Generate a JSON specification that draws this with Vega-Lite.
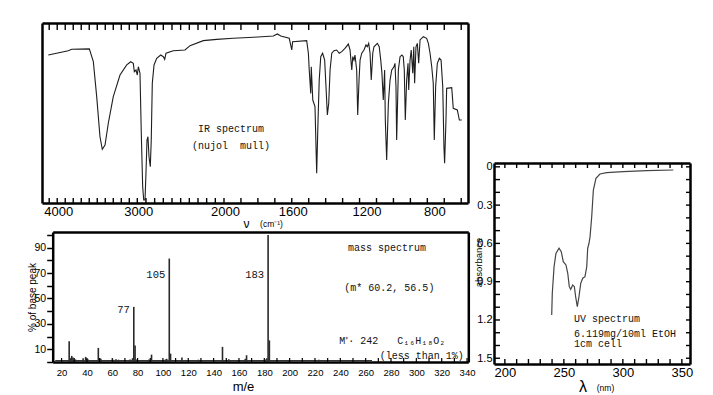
{
  "$schema": "https://vega.github.io/schema/vega-lite/v6.json",
  "width": 713,
  "height": 395,
  "padding": 0,
  "autosize": {"type": "none"},
  "background": "white",
  "config": {
    "view": {"stroke": null},
    "axis": {
      "grid": false,
      "labelOverlap": false,
      "labelFlush": false,
      "labelColor": "#000",
      "titleColor": "#000",
      "domainColor": "#000",
      "domainWidth": 2.5,
      "labelFont": "Liberation Sans",
      "titleFont": "Liberation Sans",
      "titleFontWeight": "normal"
    }
  },
  "datasets": {
    "ir": [
      {"wavenumber": 4111, "transmittance": 82.2}, {"wavenumber": 3862, "transmittance": 84.6}, {"wavenumber": 3819, "transmittance": 85.4},
      {"wavenumber": 3599, "transmittance": 85.6}, {"wavenumber": 3549, "transmittance": 78.5}, {"wavenumber": 3507, "transmittance": 59.1},
      {"wavenumber": 3466, "transmittance": 36.8}, {"wavenumber": 3437, "transmittance": 29.8}, {"wavenumber": 3403, "transmittance": 32.2},
      {"wavenumber": 3362, "transmittance": 44.3}, {"wavenumber": 3300, "transmittance": 59.1}, {"wavenumber": 3216, "transmittance": 71.1},
      {"wavenumber": 3132, "transmittance": 76.7}, {"wavenumber": 3082, "transmittance": 78.5}, {"wavenumber": 3050, "transmittance": 77.6},
      {"wavenumber": 3037, "transmittance": 72.9}, {"wavenumber": 3016, "transmittance": 73.9}, {"wavenumber": 3000, "transmittance": 71.1},
      {"wavenumber": 2988, "transmittance": 75.7}, {"wavenumber": 2969, "transmittance": 72.1}, {"wavenumber": 2954, "transmittance": 38.7},
      {"wavenumber": 2938, "transmittance": 9.1}, {"wavenumber": 2926, "transmittance": 1.7}, {"wavenumber": 2911, "transmittance": 1.7},
      {"wavenumber": 2900, "transmittance": 16.7}, {"wavenumber": 2888, "transmittance": 35}, {"wavenumber": 2877, "transmittance": 36.8},
      {"wavenumber": 2865, "transmittance": 25.7}, {"wavenumber": 2850, "transmittance": 20.2}, {"wavenumber": 2839, "transmittance": 35},
      {"wavenumber": 2827, "transmittance": 66.5}, {"wavenumber": 2807, "transmittance": 76.7}, {"wavenumber": 2776, "transmittance": 80.4},
      {"wavenumber": 2730, "transmittance": 82.2}, {"wavenumber": 2700, "transmittance": 81.3}, {"wavenumber": 2684, "transmittance": 79.8},
      {"wavenumber": 2669, "transmittance": 83.2}, {"wavenumber": 2585, "transmittance": 84.6}, {"wavenumber": 2450, "transmittance": 85},
      {"wavenumber": 2392, "transmittance": 87.4}, {"wavenumber": 2239, "transmittance": 90.2}, {"wavenumber": 2084, "transmittance": 90.9},
      {"wavenumber": 1945, "transmittance": 91.5}, {"wavenumber": 1827, "transmittance": 92.1}, {"wavenumber": 1709, "transmittance": 92.8},
      {"wavenumber": 1685, "transmittance": 93.9}, {"wavenumber": 1665, "transmittance": 92.8}, {"wavenumber": 1615, "transmittance": 91.5},
      {"wavenumber": 1600, "transmittance": 85}, {"wavenumber": 1595, "transmittance": 89.6}, {"wavenumber": 1512, "transmittance": 90.2},
      {"wavenumber": 1502, "transmittance": 83.2}, {"wavenumber": 1497, "transmittance": 73.9}, {"wavenumber": 1488, "transmittance": 60.9},
      {"wavenumber": 1485, "transmittance": 75.7}, {"wavenumber": 1476, "transmittance": 57.2}, {"wavenumber": 1463, "transmittance": 53.5},
      {"wavenumber": 1453, "transmittance": 16.5}, {"wavenumber": 1445, "transmittance": 46.1}, {"wavenumber": 1438, "transmittance": 68.3},
      {"wavenumber": 1429, "transmittance": 81.3}, {"wavenumber": 1418, "transmittance": 83.2}, {"wavenumber": 1406, "transmittance": 79.4},
      {"wavenumber": 1398, "transmittance": 64.6}, {"wavenumber": 1390, "transmittance": 48.9}, {"wavenumber": 1382, "transmittance": 55.4},
      {"wavenumber": 1374, "transmittance": 73.9}, {"wavenumber": 1364, "transmittance": 83.2}, {"wavenumber": 1351, "transmittance": 84.6},
      {"wavenumber": 1335, "transmittance": 85}, {"wavenumber": 1320, "transmittance": 83.2}, {"wavenumber": 1305, "transmittance": 84.1},
      {"wavenumber": 1286, "transmittance": 85.9}, {"wavenumber": 1266, "transmittance": 88.3}, {"wavenumber": 1256, "transmittance": 85},
      {"wavenumber": 1246, "transmittance": 73.9}, {"wavenumber": 1240, "transmittance": 81.3}, {"wavenumber": 1233, "transmittance": 79.4},
      {"wavenumber": 1227, "transmittance": 82.2}, {"wavenumber": 1217, "transmittance": 73.9}, {"wavenumber": 1211, "transmittance": 48.9},
      {"wavenumber": 1203, "transmittance": 68.3}, {"wavenumber": 1197, "transmittance": 79.4}, {"wavenumber": 1187, "transmittance": 83.2},
      {"wavenumber": 1174, "transmittance": 85}, {"wavenumber": 1162, "transmittance": 87.8}, {"wavenumber": 1154, "transmittance": 86.8},
      {"wavenumber": 1146, "transmittance": 88.7}, {"wavenumber": 1138, "transmittance": 83.2}, {"wavenumber": 1131, "transmittance": 68.3},
      {"wavenumber": 1122, "transmittance": 83.2}, {"wavenumber": 1115, "transmittance": 86.8}, {"wavenumber": 1095, "transmittance": 88.7},
      {"wavenumber": 1084, "transmittance": 86.8}, {"wavenumber": 1075, "transmittance": 79.4}, {"wavenumber": 1068, "transmittance": 72.1},
      {"wavenumber": 1060, "transmittance": 57.2}, {"wavenumber": 1052, "transmittance": 73.9}, {"wavenumber": 1048, "transmittance": 46.1},
      {"wavenumber": 1040, "transmittance": 23.9}, {"wavenumber": 1030, "transmittance": 55.4}, {"wavenumber": 1020, "transmittance": 68.3},
      {"wavenumber": 1010, "transmittance": 73.9}, {"wavenumber": 997, "transmittance": 75.7}, {"wavenumber": 991, "transmittance": 77.6},
      {"wavenumber": 985, "transmittance": 64.6}, {"wavenumber": 981, "transmittance": 35}, {"wavenumber": 971, "transmittance": 73.9},
      {"wavenumber": 961, "transmittance": 81.3}, {"wavenumber": 950, "transmittance": 82.2}, {"wavenumber": 942, "transmittance": 81.3},
      {"wavenumber": 936, "transmittance": 73.9}, {"wavenumber": 930, "transmittance": 46.1}, {"wavenumber": 922, "transmittance": 68.3},
      {"wavenumber": 914, "transmittance": 77.6}, {"wavenumber": 910, "transmittance": 62.8}, {"wavenumber": 902, "transmittance": 79.4},
      {"wavenumber": 895, "transmittance": 85}, {"wavenumber": 886, "transmittance": 72.1}, {"wavenumber": 880, "transmittance": 86.8},
      {"wavenumber": 875, "transmittance": 66.5}, {"wavenumber": 867, "transmittance": 86.8}, {"wavenumber": 859, "transmittance": 88.7},
      {"wavenumber": 851, "transmittance": 77.6}, {"wavenumber": 843, "transmittance": 90.6}, {"wavenumber": 824, "transmittance": 92.4},
      {"wavenumber": 804, "transmittance": 91.5}, {"wavenumber": 794, "transmittance": 88.7}, {"wavenumber": 784, "transmittance": 83.2},
      {"wavenumber": 774, "transmittance": 75.7}, {"wavenumber": 765, "transmittance": 66.5}, {"wavenumber": 759, "transmittance": 35},
      {"wavenumber": 751, "transmittance": 64.6}, {"wavenumber": 741, "transmittance": 77.6}, {"wavenumber": 729, "transmittance": 80.4},
      {"wavenumber": 719, "transmittance": 79.4}, {"wavenumber": 709, "transmittance": 64.6}, {"wavenumber": 702, "transmittance": 31.3},
      {"wavenumber": 698, "transmittance": 22.1}, {"wavenumber": 690, "transmittance": 46.1}, {"wavenumber": 686, "transmittance": 63.7},
      {"wavenumber": 656, "transmittance": 64.1}, {"wavenumber": 647, "transmittance": 52.6}, {"wavenumber": 623, "transmittance": 51.7},
      {"wavenumber": 611, "transmittance": 46.1}, {"wavenumber": 597, "transmittance": 46.1}
    ],
    "irText": [
      {"wavenumber": 1959, "transmittance": 41.1, "text": "IR spectrum"},
      {"wavenumber": 1959, "transmittance": 31.7, "text": "(nujol \u00a0mull)"}
    ],
    "irTicks": [
      {"wavenumber": 4100}, {"wavenumber": 4000}, {"wavenumber": 3900}, {"wavenumber": 3800}, {"wavenumber": 3700}, {"wavenumber": 3600},
      {"wavenumber": 3500}, {"wavenumber": 3400}, {"wavenumber": 3300}, {"wavenumber": 3200}, {"wavenumber": 3100}, {"wavenumber": 3000},
      {"wavenumber": 2900}, {"wavenumber": 2800}, {"wavenumber": 2700}, {"wavenumber": 2600}, {"wavenumber": 2500}, {"wavenumber": 2400},
      {"wavenumber": 2300}, {"wavenumber": 2200}, {"wavenumber": 2100}, {"wavenumber": 2000}, {"wavenumber": 1900}, {"wavenumber": 1800},
      {"wavenumber": 1700}, {"wavenumber": 1600}, {"wavenumber": 1500}, {"wavenumber": 1400}, {"wavenumber": 1300}, {"wavenumber": 1200},
      {"wavenumber": 1100}, {"wavenumber": 1000}, {"wavenumber": 900}, {"wavenumber": 800}, {"wavenumber": 700}, {"wavenumber": 600}
    ],
    "ms": [
      {"mz": 26, "pct": 16.3}, {"mz": 27, "pct": 3}, {"mz": 28, "pct": 4.8}, {"mz": 29, "pct": 3.5}, {"mz": 31, "pct": 2},
      {"mz": 37, "pct": 3}, {"mz": 39, "pct": 4}, {"mz": 40, "pct": 2.5}, {"mz": 41, "pct": 2}, {"mz": 49, "pct": 11.1},
      {"mz": 50, "pct": 3}, {"mz": 51, "pct": 2.5}, {"mz": 61, "pct": 1.8}, {"mz": 63, "pct": 2.2}, {"mz": 65, "pct": 1.8},
      {"mz": 74, "pct": 2}, {"mz": 76, "pct": 3}, {"mz": 77, "pct": 43.4}, {"mz": 78, "pct": 13}, {"mz": 79, "pct": 2},
      {"mz": 89, "pct": 2}, {"mz": 91, "pct": 5.8}, {"mz": 102, "pct": 2}, {"mz": 103, "pct": 2.5}, {"mz": 105, "pct": 81.4},
      {"mz": 106, "pct": 6.6}, {"mz": 115, "pct": 3.5}, {"mz": 128, "pct": 1.8}, {"mz": 147, "pct": 11.9}, {"mz": 152, "pct": 2.2},
      {"mz": 165, "pct": 2.5}, {"mz": 166, "pct": 5.3}, {"mz": 181, "pct": 2}, {"mz": 182, "pct": 3}, {"mz": 183, "pct": 100},
      {"mz": 184, "pct": 17}, {"mz": 199, "pct": 1.5}, {"mz": 223, "pct": 1.8}
    ],
    "msBase": [{"mz": 15, "pct": 1.2}, {"mz": 265, "pct": 1.2}],
    "msTicks": [
      {"mz": 20}, {"mz": 30}, {"mz": 40}, {"mz": 50}, {"mz": 60}, {"mz": 70}, {"mz": 80}, {"mz": 90}, {"mz": 100}, {"mz": 110}, {"mz": 120},
      {"mz": 130}, {"mz": 140}, {"mz": 150}, {"mz": 160}, {"mz": 170}, {"mz": 180}, {"mz": 190}, {"mz": 200}, {"mz": 210}, {"mz": 220},
      {"mz": 230}, {"mz": 240}, {"mz": 250}, {"mz": 260}, {"mz": 270}, {"mz": 280}, {"mz": 290}, {"mz": 300}, {"mz": 310}, {"mz": 320},
      {"mz": 330}, {"mz": 340}
    ],
    "msPeakLabels": [
      {"mz": 77, "pct": 40.7, "label": "77"},
      {"mz": 105, "pct": 68.2, "label": "105"},
      {"mz": 183, "pct": 68.2, "label": "183"}
    ],
    "msText": [
      {"mz": 276.9, "pct": 89.5, "text": "mass spectrum"},
      {"mz": 278.7, "pct": 58.0, "text": "(m* 60.2, 56.5)"},
      {"mz": 254.5, "pct": 16.5, "text": "M⁺· 242"},
      {"mz": 303.9, "pct": 16.5, "text": "C₁₆H₁₈O₂"},
      {"mz": 304.3, "pct": 4.7, "text": "(less than 1%)"}
    ],
    "uv": [
      {"nm": 239.7, "absorbance": 1.161}, {"nm": 240.2, "absorbance": 0.991}, {"nm": 241.7, "absorbance": 0.783},
      {"nm": 243.3, "absorbance": 0.678}, {"nm": 245.9, "absorbance": 0.638}, {"nm": 247.8, "absorbance": 0.665},
      {"nm": 249.5, "absorbance": 0.743}, {"nm": 251.8, "absorbance": 0.769}, {"nm": 253.3, "absorbance": 0.834},
      {"nm": 254.6, "absorbance": 0.939}, {"nm": 255.8, "absorbance": 0.960}, {"nm": 257.5, "absorbance": 0.926},
      {"nm": 258.9, "absorbance": 0.939}, {"nm": 260.0, "absorbance": 1.018}, {"nm": 261.4, "absorbance": 1.096},
      {"nm": 262.8, "absorbance": 1.018}, {"nm": 264.3, "absorbance": 0.913}, {"nm": 266.0, "absorbance": 0.873},
      {"nm": 267.9, "absorbance": 0.861}, {"nm": 269.4, "absorbance": 0.783}, {"nm": 270.2, "absorbance": 0.638},
      {"nm": 271.3, "absorbance": 0.599}, {"nm": 272.2, "absorbance": 0.547}, {"nm": 273.6, "absorbance": 0.391},
      {"nm": 275.0, "absorbance": 0.182}, {"nm": 277.2, "absorbance": 0.090}, {"nm": 280.6, "absorbance": 0.056},
      {"nm": 286.3, "absorbance": 0.046}, {"nm": 300.4, "absorbance": 0.038}, {"nm": 320.2, "absorbance": 0.030},
      {"nm": 342.8, "absorbance": 0.025}
    ],
    "uvText": [
      {"nm": 258.6, "absorbance": 1.195, "text": "UV spectrum"},
      {"nm": 258.6, "absorbance": 1.310, "text": "6.119mg/10ml EtOH"},
      {"nm": 258.6, "absorbance": 1.388, "text": "1cm cell"}
    ],
    "uvXTicks": [
      {"nm": 200}, {"nm": 210}, {"nm": 220}, {"nm": 230}, {"nm": 240}, {"nm": 250}, {"nm": 260}, {"nm": 270},
      {"nm": 280}, {"nm": 290}, {"nm": 300}, {"nm": 310}, {"nm": 320}, {"nm": 330}, {"nm": 340}, {"nm": 350}
    ],
    "uvYTicks": [
      {"absorbance": 0}, {"absorbance": 0.1}, {"absorbance": 0.2}, {"absorbance": 0.3}, {"absorbance": 0.4}, {"absorbance": 0.5},
      {"absorbance": 0.6}, {"absorbance": 0.7}, {"absorbance": 0.8}, {"absorbance": 0.9}, {"absorbance": 1.0}, {"absorbance": 1.1},
      {"absorbance": 1.2}, {"absorbance": 1.3}, {"absorbance": 1.4}, {"absorbance": 1.5}
    ]
  },
  "layer": [
    {
      "layer": [
        {
          "data": {"name": "ir"},
          "mark": {"type": "line", "color": "#1e1e1e", "strokeWidth": 1.1},
          "encoding": {
            "x": {"field": "wavenumber", "type": "quantitative",
              "scale": {"domain": [4190, 3000, 2000, 560], "range": [42, 137.3, 224, 468], "nice": false, "zero": false},
              "axis": {"orient": "bottom", "offset": -192, "format": "d", "ticks": false,
                "values": [4000,3000,2000,1600,1200,800],
                "labelFontSize": 13, "labelPadding": 2,
                "labelOffset": {"condition": {"test": "datum.value <= 1200", "value": 7}, "value": 1},
                "title": "ν", "titleFontSize": 12, "titleX": 246, "titleY": 20, "titleBaseline": "middle", "titleAlign": "center"}},
            "y": {"field": "transmittance", "type": "quantitative",
              "scale": {"domain": [0, 100], "range": [203, 23], "nice": false, "zero": false},
              "axis": {"orient": "left", "offset": -42, "ticks": false, "labels": false, "title": null}}
          }
        },
        {
          "data": {"name": "irText"},
          "transform": [{"filter": "datum.text == 'IR spectrum'"}],
          "mark": {"type": "text", "font": "Liberation Mono", "fontSize": 10, "align": "center", "baseline": "middle", "color": "#111"},
          "encoding": {
            "x": {"field": "wavenumber", "type": "quantitative",
              "scale": {"domain": [4190, 3000, 2000, 560], "range": [42, 137.3, 224, 468], "nice": false, "zero": false},
              "axis": {"orient": "top", "offset": -23, "ticks": false, "labels": false, "title": null}},
            "y": {"field": "transmittance", "type": "quantitative",
              "scale": {"domain": [0, 100], "range": [203, 23], "nice": false, "zero": false},
              "axis": {"orient": "right", "offset": -245, "ticks": false, "labels": false, "title": null}},
            "text": {"field": "text"}
          }
        },
        {
          "data": {"name": "irText"},
          "transform": [{"filter": "datum.text != 'IR spectrum'"}],
          "mark": {"type": "text", "font": "Liberation Mono", "fontSize": 10, "align": "center", "baseline": "middle", "color": "#111"},
          "encoding": {
            "x": {"field": "wavenumber", "type": "quantitative",
              "scale": {"domain": [4190, 3000, 2000, 560], "range": [42, 137.3, 224, 468], "nice": false, "zero": false},
              "axis": {"orient": "bottom", "offset": -192, "domain": false, "ticks": false, "labels": false,
                "title": "(cm⁻¹)", "titleFontSize": 8.5, "titleX": 271, "titleY": 20.5, "titleBaseline": "middle", "titleAlign": "center"}},
            "y": {"field": "transmittance", "type": "quantitative",
              "scale": {"domain": [0, 100], "range": [203, 23], "nice": false, "zero": false},
              "axis": null},
            "text": {"field": "text"}
          }
        },
        {
          "data": {"name": "irTicks"},
          "mark": {"type": "tick", "orient": "vertical", "color": "#000", "size": 7, "thickness": 1.4, "yOffset": 3.5, "opacity": 1},
          "encoding": {
            "x": {"field": "wavenumber", "type": "quantitative",
              "scale": {"domain": [4190, 3000, 2000, 560], "range": [42, 137.3, 224, 468], "nice": false, "zero": false}, "axis": null},
            "y": {"datum": 100, "type": "quantitative",
              "scale": {"domain": [0, 100], "range": [203, 23], "nice": false, "zero": false}, "axis": null}
          }
        },
        {
          "data": {"name": "irTicks"},
          "mark": {"type": "tick", "orient": "vertical", "color": "#000", "size": 5, "thickness": 1.4, "yOffset": -2.5, "opacity": 1},
          "encoding": {
            "x": {"field": "wavenumber", "type": "quantitative",
              "scale": {"domain": [4190, 3000, 2000, 560], "range": [42, 137.3, 224, 468], "nice": false, "zero": false}, "axis": null},
            "y": {"datum": 0, "type": "quantitative",
              "scale": {"domain": [0, 100], "range": [203, 23], "nice": false, "zero": false}, "axis": null}
          }
        }
      ],
      "resolve": {"axis": {"x": "independent", "y": "independent"}}
    },
    {
      "layer": [
        {
          "data": {"name": "ms"},
          "mark": {"type": "rule", "color": "#2a2a2a", "strokeWidth": 1.6},
          "encoding": {
            "x": {"field": "mz", "type": "quantitative",
              "scale": {"domain": [13, 341], "range": [52.7, 468.3], "nice": false, "zero": false},
              "axis": {"orient": "bottom", "offset": -33, "format": "d", "ticks": false,
                "values": [20,40,60,80,100,120,140,160,180,200,220,240,260,280,300,320,340],
                "labelFontSize": 9.5, "labelPadding": 5,
                "title": "m/e", "titleFontSize": 13, "titleX": 243, "titleY": 24.7, "titleBaseline": "middle", "titleAlign": "center"}},
            "y": {"field": "pct", "type": "quantitative",
              "scale": {"domain": [0, 102.3], "range": [362, 232], "nice": false, "zero": false},
              "axis": {"orient": "left", "offset": -52.7, "format": "d",
                "values": [0,10,20,30,40,50,60,70,80,90,100],
                "labelExpr": "datum.value % 20 == 10 ? datum.label : ''",
                "ticks": true, "tickSize": 6, "tickColor": "#000", "tickWidth": 1.5, "tickOpacity": 1,
                "labelPadding": 1, "labelFontSize": 10.5,
                "title": "% of base peak", "titleFontSize": 10, "titleAngle": 270, "titleX": -20, "titleY": 297, "titleBaseline": "middle", "titleAlign": "center"}},
            "y2": {"datum": 0}
          }
        },
        {
          "data": {"name": "msBase"},
          "mark": {"type": "line", "color": "#333", "strokeWidth": 1.2},
          "encoding": {
            "x": {"field": "mz", "type": "quantitative",
              "scale": {"domain": [13, 341], "range": [52.7, 468.3], "nice": false, "zero": false},
              "axis": {"orient": "top", "offset": -232, "ticks": false, "labels": false, "title": null}},
            "y": {"field": "pct", "type": "quantitative",
              "scale": {"domain": [0, 102.3], "range": [362, 232], "nice": false, "zero": false},
              "axis": {"orient": "right", "offset": -244.7, "ticks": false, "labels": false, "title": null}}
          }
        },
        {
          "data": {"name": "msPeakLabels"},
          "mark": {"type": "text", "font": "Liberation Mono", "fontSize": 10.5, "align": "right", "baseline": "middle", "dx": -4, "color": "#111"},
          "encoding": {
            "x": {"field": "mz", "type": "quantitative",
              "scale": {"domain": [13, 341], "range": [52.7, 468.3], "nice": false, "zero": false}, "axis": null},
            "y": {"field": "pct", "type": "quantitative",
              "scale": {"domain": [0, 102.3], "range": [362, 232], "nice": false, "zero": false}, "axis": null},
            "text": {"field": "label"}
          }
        },
        {
          "data": {"name": "msText"},
          "mark": {"type": "text", "font": "Liberation Mono", "fontSize": 10, "align": "center", "baseline": "middle", "color": "#111"},
          "encoding": {
            "x": {"field": "mz", "type": "quantitative",
              "scale": {"domain": [13, 341], "range": [52.7, 468.3], "nice": false, "zero": false}, "axis": null},
            "y": {"field": "pct", "type": "quantitative",
              "scale": {"domain": [0, 102.3], "range": [362, 232], "nice": false, "zero": false}, "axis": null},
            "text": {"field": "text"}
          }
        },
        {
          "data": {"name": "msTicks"},
          "mark": {"type": "tick", "orient": "vertical", "color": "#000", "size": 4, "thickness": 1.2, "yOffset": -2, "opacity": 1},
          "encoding": {
            "x": {"field": "mz", "type": "quantitative",
              "scale": {"domain": [13, 341], "range": [52.7, 468.3], "nice": false, "zero": false}, "axis": null},
            "y": {"datum": 0, "type": "quantitative",
              "scale": {"domain": [0, 102.3], "range": [362, 232], "nice": false, "zero": false}, "axis": null}
          }
        }
      ],
      "resolve": {"axis": {"x": "independent", "y": "independent"}}
    },
    {
      "layer": [
        {
          "data": {"name": "uv"},
          "mark": {"type": "line", "color": "#444", "strokeWidth": 1.2},
          "encoding": {
            "x": {"field": "nm", "type": "quantitative",
              "scale": {"domain": [190.8, 356.9], "range": [494, 690], "nice": false, "zero": false},
              "axis": {"orient": "bottom", "offset": -31, "format": "d", "ticks": false,
                "values": [200,250,300,350],
                "labelPadding": 2, "labelFontSize": 13,
                "title": "λ", "titleFontSize": 16, "titleX": 582.5, "titleY": 22, "titleBaseline": "middle", "titleAlign": "center"}},
            "y": {"field": "absorbance", "type": "quantitative",
              "scale": {"domain": [-0.03, 1.545], "range": [163, 364], "nice": false, "zero": false},
              "axis": {"orient": "left", "offset": -494, "ticks": false,
                "values": [0,0.3,0.6,0.9,1.2,1.5],
                "labelExpr": "datum.value == 0 ? '0' : format(datum.value, '.1f')",
                "labelPadding": 2, "labelFontSize": 11,
                "title": "absorbance", "titleFontSize": 9.5, "titleAngle": 270, "titleX": -16, "titleY": 262, "titleBaseline": "middle", "titleAlign": "center"}}
          }
        },
        {
          "data": {"name": "uvText"},
          "transform": [{"filter": "datum.text == 'UV spectrum'"}],
          "mark": {"type": "text", "font": "Liberation Mono", "fontSize": 10, "align": "left", "baseline": "middle", "color": "#111"},
          "encoding": {
            "x": {"field": "nm", "type": "quantitative",
              "scale": {"domain": [190.8, 356.9], "range": [494, 690], "nice": false, "zero": false},
              "axis": {"orient": "top", "offset": -163, "ticks": false, "labels": false, "title": null}},
            "y": {"field": "absorbance", "type": "quantitative",
              "scale": {"domain": [-0.03, 1.545], "range": [163, 364], "nice": false, "zero": false},
              "axis": {"orient": "right", "offset": -23, "ticks": false, "labels": false, "title": null}},
            "text": {"field": "text"}
          }
        },
        {
          "data": {"name": "uvText"},
          "transform": [{"filter": "datum.text != 'UV spectrum'"}],
          "mark": {"type": "text", "font": "Liberation Mono", "fontSize": 10, "align": "left", "baseline": "middle", "color": "#111"},
          "encoding": {
            "x": {"field": "nm", "type": "quantitative",
              "scale": {"domain": [190.8, 356.9], "range": [494, 690], "nice": false, "zero": false},
              "axis": {"orient": "bottom", "offset": -31, "domain": false, "ticks": false, "labels": false,
                "title": "(nm)", "titleFontSize": 8.5, "titleX": 605, "titleY": 23.5, "titleBaseline": "middle", "titleAlign": "center"}},
            "y": {"field": "absorbance", "type": "quantitative",
              "scale": {"domain": [-0.03, 1.545], "range": [163, 364], "nice": false, "zero": false},
              "axis": null},
            "text": {"field": "text"}
          }
        },
        {
          "data": {"name": "uvXTicks"},
          "mark": {"type": "tick", "orient": "vertical", "color": "#000", "size": 5, "thickness": 1.4, "yOffset": 2.5, "opacity": 1},
          "encoding": {
            "x": {"field": "nm", "type": "quantitative",
              "scale": {"domain": [190.8, 356.9], "range": [494, 690], "nice": false, "zero": false}, "axis": null},
            "y": {"datum": -0.03, "type": "quantitative",
              "scale": {"domain": [-0.03, 1.545], "range": [163, 364], "nice": false, "zero": false}, "axis": null}
          }
        },
        {
          "data": {"name": "uvXTicks"},
          "mark": {"type": "tick", "orient": "vertical", "color": "#000", "size": 5, "thickness": 1.4, "yOffset": -2.5, "opacity": 1},
          "encoding": {
            "x": {"field": "nm", "type": "quantitative",
              "scale": {"domain": [190.8, 356.9], "range": [494, 690], "nice": false, "zero": false}, "axis": null},
            "y": {"datum": 1.545, "type": "quantitative",
              "scale": {"domain": [-0.03, 1.545], "range": [163, 364], "nice": false, "zero": false}, "axis": null}
          }
        },
        {
          "data": {"name": "uvYTicks"},
          "mark": {"type": "tick", "orient": "horizontal", "color": "#000", "size": 6, "thickness": 1.4, "xOffset": 3, "opacity": 1},
          "encoding": {
            "y": {"field": "absorbance", "type": "quantitative",
              "scale": {"domain": [-0.03, 1.545], "range": [163, 364], "nice": false, "zero": false}, "axis": null},
            "x": {"datum": 190.8, "type": "quantitative",
              "scale": {"domain": [190.8, 356.9], "range": [494, 690], "nice": false, "zero": false}, "axis": null}
          }
        },
        {
          "data": {"name": "uvYTicks"},
          "mark": {"type": "tick", "orient": "horizontal", "color": "#000", "size": 4, "thickness": 1.4, "xOffset": -2, "opacity": 1},
          "encoding": {
            "y": {"field": "absorbance", "type": "quantitative",
              "scale": {"domain": [-0.03, 1.545], "range": [163, 364], "nice": false, "zero": false}, "axis": null},
            "x": {"datum": 356.9, "type": "quantitative",
              "scale": {"domain": [190.8, 356.9], "range": [494, 690], "nice": false, "zero": false}, "axis": null}
          }
        }
      ],
      "resolve": {"axis": {"x": "independent", "y": "independent"}}
    }
  ],
  "resolve": {"scale": {"x": "independent", "y": "independent"}, "axis": {"x": "independent", "y": "independent"}}
}
